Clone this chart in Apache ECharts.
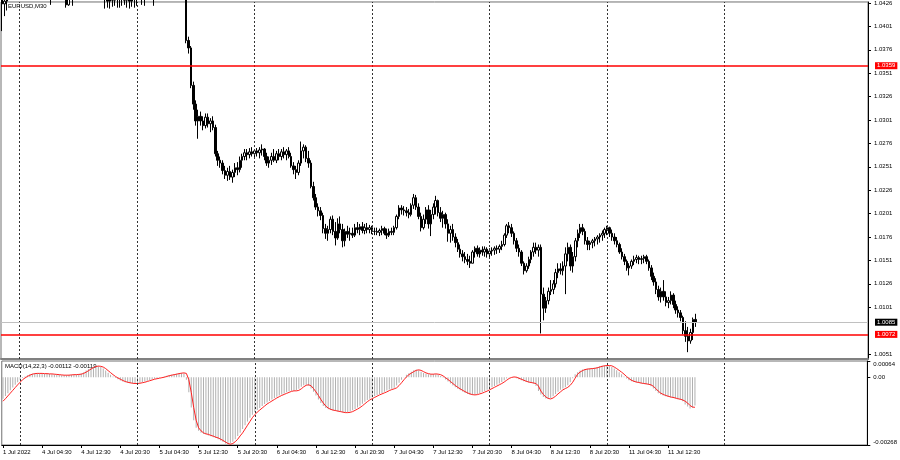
<!DOCTYPE html>
<html><head><meta charset="utf-8">
<script src="https://cdn.jsdelivr.net/npm/echarts@6/dist/echarts.min.js"></script>
<style>html,body{margin:0;padding:0;background:#fff}#c{width:900px;height:460px}</style>
</head><body><div id="c"></div>
<script>
// EURUSD M30, bar 0 = 1 Jul 2022 20:30 ; open of each bar = close of the previous bar
const firstOpen = 1.0432;
const closes = [
1.0425,1.0428,1.0433,1.0436,1.0438,1.0435,1.0437,1.0440,1.0442,1.0439,
1.0441,1.0444,1.0442,1.0445,1.0443,1.0440,1.0438,1.0436,1.0434,1.0432,
1.0430,1.0433,1.0435,1.0437,1.0435,1.0432,1.0424,1.0432,1.0434,1.0431,
1.0434,1.0436,1.0438,1.0441,1.0444,1.0446,1.0448,1.0446,1.0443,1.0440,
1.0436,1.0433,1.0430,1.0428,1.0431,1.0429,1.0432,1.0430,1.0433,1.0431,
1.0429,1.0431,1.0428,1.0430,1.0432,1.0430,1.0433,1.0431,1.0434,1.0436,
1.0438,1.0435,1.0432,1.0435,1.0437,1.0439,1.0441,1.0443,1.0441,1.0443,
1.0445,1.0443,1.0440,1.0438,1.0436,1.0386,1.0378,1.0338,1.0318,1.0300,
1.0305,1.0300,1.0295,1.0304,1.0297,1.0300,1.0293,1.0265,1.0258,1.0255,
1.0247,1.0242,1.0246,1.0240,1.0245,1.0250,1.0248,1.0258,1.0262,1.0266,
1.0264,1.0267,1.0265,1.0268,1.0266,1.0269,1.0270,1.0262,1.0255,1.0258,
1.0262,1.0258,1.0265,1.0262,1.0267,1.0264,1.0268,1.0262,1.0252,1.0248,
1.0245,1.0255,1.0268,1.0272,1.0260,1.0255,1.0230,1.0218,1.0208,1.0204,
1.0199,1.0185,1.0180,1.0184,1.0195,1.0182,1.0175,1.0190,1.0184,1.0172,
1.0182,1.0179,1.0180,1.0178,1.0186,1.0184,1.0187,1.0183,1.0186,1.0184,
1.0186,1.0182,1.0182,1.0181,1.0183,1.0185,1.0180,1.0178,1.0182,1.0181,
1.0186,1.0198,1.0207,1.0205,1.0204,1.0202,1.0200,1.0210,1.0218,1.0208,
1.0198,1.0186,1.0195,1.0205,1.0190,1.0200,1.0208,1.0215,1.0202,1.0196,
1.0200,1.0190,1.0180,1.0184,1.0176,1.0170,1.0163,1.0158,1.0155,1.0152,
1.0150,1.0148,1.0160,1.0164,1.0158,1.0162,1.0160,1.0163,1.0158,1.0161,
1.0162,1.0164,1.0163,1.0166,1.0168,1.0178,1.0188,1.0186,1.0180,1.0172,
1.0164,1.0160,1.0148,1.0140,1.0145,1.0152,1.0160,1.0165,1.0162,1.0165,
1.0115,1.0100,1.0108,1.0118,1.0120,1.0126,1.0138,1.0142,1.0140,1.0145,
1.0158,1.0165,1.0145,1.0155,1.0172,1.0180,1.0186,1.0182,1.0172,1.0168,
1.0170,1.0172,1.0174,1.0176,1.0178,1.0180,1.0184,1.0186,1.0180,1.0176,
1.0172,1.0168,1.0160,1.0155,1.0150,1.0143,1.0145,1.0150,1.0152,1.0154,
1.0152,1.0153,1.0155,1.0150,1.0143,1.0134,1.0128,1.0120,1.0112,1.0118,
1.0112,1.0106,1.0108,1.0114,1.0104,1.0098,1.0095,1.0090,1.0076,1.0070,
1.0065,1.0074,1.0088,1.0085];
const highs = [
1.0436,1.0432,1.0437,1.0440,1.0442,1.0441,1.0440,1.0445,1.0447,1.0445,
1.0446,1.0448,1.0447,1.0450,1.0449,1.0446,1.0443,1.0441,1.0439,1.0437,
1.0435,1.0437,1.0439,1.0441,1.0440,1.0437,1.0433,1.0435,1.0438,1.0436,
1.0438,1.0440,1.0442,1.0445,1.0448,1.0451,1.0453,1.0452,1.0449,1.0446,
1.0442,1.0439,1.0436,1.0434,1.0435,1.0434,1.0436,1.0435,1.0437,1.0436,
1.0434,1.0435,1.0433,1.0434,1.0436,1.0435,1.0437,1.0436,1.0438,1.0440,
1.0442,1.0440,1.0437,1.0439,1.0441,1.0443,1.0445,1.0447,1.0446,1.0448,
1.0449,1.0448,1.0446,1.0443,1.0441,1.0437,1.0390,1.0380,1.0342,1.0322,
1.0312,1.0310,1.0305,1.0308,1.0308,1.0303,1.0305,1.0296,1.0268,1.0262,
1.0258,1.0252,1.0250,1.0252,1.0248,1.0255,1.0256,1.0262,1.0265,1.0270,
1.0270,1.0271,1.0272,1.0270,1.0271,1.0272,1.0275,1.0271,1.0266,1.0262,
1.0266,1.0270,1.0268,1.0270,1.0270,1.0272,1.0270,1.0272,1.0266,1.0256,
1.0252,1.0258,1.0278,1.0275,1.0274,1.0268,1.0258,1.0235,1.0222,1.0212,
1.0208,1.0202,1.0190,1.0188,1.0198,1.0199,1.0192,1.0196,1.0198,1.0190,
1.0185,1.0188,1.0186,1.0186,1.0190,1.0192,1.0190,1.0192,1.0190,1.0191,
1.0189,1.0188,1.0186,1.0186,1.0185,1.0188,1.0187,1.0185,1.0185,1.0186,
1.0188,1.0200,1.0210,1.0210,1.0209,1.0208,1.0206,1.0212,1.0222,1.0221,
1.0212,1.0202,1.0200,1.0208,1.0210,1.0205,1.0212,1.0220,1.0216,1.0208,
1.0204,1.0202,1.0195,1.0188,1.0190,1.0180,1.0174,1.0168,1.0162,1.0160,
1.0158,1.0156,1.0162,1.0166,1.0167,1.0165,1.0166,1.0166,1.0165,1.0164,
1.0165,1.0166,1.0167,1.0168,1.0172,1.0180,1.0190,1.0192,1.0190,1.0182,
1.0175,1.0168,1.0162,1.0150,1.0148,1.0155,1.0162,1.0170,1.0170,1.0168,
1.0168,1.0122,1.0112,1.0122,1.0130,1.0130,1.0142,1.0148,1.0148,1.0150,
1.0165,1.0170,1.0168,1.0160,1.0175,1.0184,1.0190,1.0190,1.0185,1.0176,
1.0172,1.0174,1.0176,1.0178,1.0180,1.0183,1.0186,1.0188,1.0187,1.0184,
1.0180,1.0176,1.0170,1.0164,1.0158,1.0152,1.0148,1.0152,1.0156,1.0157,
1.0156,1.0156,1.0157,1.0157,1.0152,1.0146,1.0138,1.0132,1.0124,1.0122,
1.0130,1.0118,1.0112,1.0118,1.0116,1.0108,1.0102,1.0098,1.0092,1.0086,
1.0080,1.0078,1.0090,1.0094];
const lows = [
1.0396,1.0412,1.0418,1.0430,1.0432,1.0431,1.0432,1.0434,1.0436,1.0435,
1.0436,1.0437,1.0438,1.0439,1.0438,1.0435,1.0433,1.0431,1.0430,1.0429,
1.0424,1.0429,1.0430,1.0432,1.0431,1.0429,1.0421,1.0423,1.0430,1.0423,
1.0430,1.0431,1.0433,1.0435,1.0438,1.0441,1.0442,1.0441,1.0438,1.0434,
1.0430,1.0428,1.0420,1.0421,1.0420,1.0422,1.0423,1.0421,1.0421,1.0423,
1.0424,1.0421,1.0420,1.0422,1.0421,1.0423,1.0429,1.0424,1.0423,1.0430,
1.0432,1.0430,1.0423,1.0430,1.0432,1.0434,1.0436,1.0438,1.0436,1.0437,
1.0440,1.0438,1.0435,1.0433,1.0431,1.0383,1.0372,1.0335,1.0312,1.0295,
1.0281,1.0295,1.0290,1.0292,1.0293,1.0288,1.0290,1.0262,1.0252,1.0250,
1.0243,1.0238,1.0236,1.0237,1.0234,1.0240,1.0242,1.0245,1.0250,1.0258,
1.0258,1.0260,1.0262,1.0261,1.0262,1.0260,1.0263,1.0258,1.0252,1.0250,
1.0253,1.0256,1.0255,1.0258,1.0258,1.0260,1.0258,1.0260,1.0250,1.0243,
1.0238,1.0242,1.0252,1.0260,1.0256,1.0250,1.0228,1.0215,1.0205,1.0198,
1.0194,1.0180,1.0174,1.0172,1.0180,1.0178,1.0167,1.0173,1.0180,1.0165,
1.0166,1.0175,1.0172,1.0175,1.0176,1.0180,1.0178,1.0180,1.0179,1.0180,
1.0180,1.0179,1.0178,1.0178,1.0177,1.0178,1.0178,1.0174,1.0176,1.0178,
1.0178,1.0184,1.0195,1.0200,1.0199,1.0198,1.0196,1.0198,1.0206,1.0205,
1.0195,1.0182,1.0184,1.0190,1.0185,1.0177,1.0195,1.0200,1.0198,1.0192,
1.0186,1.0185,1.0171,1.0170,1.0172,1.0165,1.0160,1.0154,1.0150,1.0148,
1.0146,1.0143,1.0148,1.0154,1.0155,1.0154,1.0156,1.0155,1.0154,1.0154,
1.0156,1.0157,1.0158,1.0159,1.0162,1.0166,1.0175,1.0180,1.0176,1.0168,
1.0160,1.0155,1.0145,1.0136,1.0138,1.0142,1.0148,1.0155,1.0158,1.0155,
1.0073,1.0087,1.0095,1.0104,1.0114,1.0115,1.0122,1.0132,1.0136,1.0135,
1.0115,1.0150,1.0140,1.0138,1.0150,1.0165,1.0175,1.0178,1.0168,1.0162,
1.0162,1.0164,1.0166,1.0168,1.0170,1.0172,1.0175,1.0178,1.0176,1.0172,
1.0168,1.0165,1.0158,1.0152,1.0146,1.0140,1.0135,1.0142,1.0146,1.0148,
1.0147,1.0147,1.0148,1.0147,1.0140,1.0130,1.0124,1.0115,1.0108,1.0106,
1.0108,1.0102,1.0100,1.0104,1.0100,1.0094,1.0090,1.0086,1.0072,1.0064,
1.0053,1.0062,1.0066,1.0080];
// MACD(14,22,3) histogram (main line) and signal line
const macdHist = [
-0.00085,-0.00074,-0.00063,-0.00052,-0.00041,-0.00030,-0.00020,-0.00010,-0.00003,0.00003,
0.00008,0.00012,0.00014,0.00015,0.00015,0.00015,0.00014,0.00014,0.00013,0.00013,
0.00012,0.00011,0.00010,0.00009,0.00008,0.00008,0.00008,0.00009,0.00010,0.00010,
0.00011,0.00012,0.00015,0.00020,0.00026,0.00032,0.00038,0.00042,0.00044,0.00043,
0.00040,0.00034,0.00026,0.00018,0.00010,0.00003,-0.00003,-0.00008,-0.00013,-0.00017,
-0.00020,-0.00022,-0.00024,-0.00025,-0.00025,-0.00024,-0.00022,-0.00020,-0.00017,-0.00014,
-0.00011,-0.00008,-0.00006,-0.00004,-0.00002,0.00000,0.00003,0.00006,0.00008,0.00010,
0.00012,0.00014,0.00016,0.00017,0.00015,-0.00010,-0.00060,-0.00120,-0.00170,-0.00200,
-0.00212,-0.00220,-0.00224,-0.00226,-0.00230,-0.00233,-0.00237,-0.00240,-0.00245,-0.00250,
-0.00256,-0.00262,-0.00265,-0.00262,-0.00255,-0.00245,-0.00232,-0.00220,-0.00205,-0.00190,
-0.00175,-0.00160,-0.00148,-0.00138,-0.00130,-0.00122,-0.00114,-0.00106,-0.00100,-0.00094,
-0.00088,-0.00082,-0.00077,-0.00072,-0.00068,-0.00064,-0.00060,-0.00056,-0.00054,-0.00054,
-0.00052,-0.00046,-0.00038,-0.00032,-0.00030,-0.00034,-0.00045,-0.00058,-0.00072,-0.00088,
-0.00102,-0.00114,-0.00122,-0.00127,-0.00130,-0.00132,-0.00134,-0.00136,-0.00138,-0.00140,
-0.00140,-0.00139,-0.00136,-0.00131,-0.00126,-0.00120,-0.00113,-0.00105,-0.00097,-0.00090,
-0.00085,-0.00080,-0.00075,-0.00070,-0.00066,-0.00062,-0.00058,-0.00053,-0.00049,-0.00046,
-0.00042,-0.00033,-0.00022,-0.00010,0.00001,0.00010,0.00016,0.00022,0.00027,0.00029,
0.00027,0.00022,0.00017,0.00014,0.00012,0.00012,0.00013,0.00012,0.00010,0.00005,
-0.00002,-0.00009,-0.00017,-0.00025,-0.00033,-0.00040,-0.00046,-0.00052,-0.00057,-0.00062,
-0.00066,-0.00069,-0.00070,-0.00069,-0.00066,-0.00063,-0.00059,-0.00055,-0.00050,-0.00045,
-0.00040,-0.00035,-0.00030,-0.00025,-0.00019,-0.00012,-0.00005,-0.00001,0.00001,0.00000,
-0.00004,-0.00008,-0.00012,-0.00016,-0.00019,-0.00021,-0.00023,-0.00025,-0.00035,-0.00055,
-0.00068,-0.00078,-0.00084,-0.00086,-0.00082,-0.00075,-0.00066,-0.00058,-0.00050,-0.00045,
-0.00040,-0.00032,-0.00020,-0.00004,0.00012,0.00020,0.00026,0.00030,0.00032,0.00033,
0.00034,0.00035,0.00037,0.00040,0.00043,0.00045,0.00046,0.00046,0.00045,0.00040,
0.00034,0.00027,0.00020,0.00012,0.00003,-0.00005,-0.00012,-0.00016,-0.00019,-0.00021,
-0.00023,-0.00025,-0.00026,-0.00028,-0.00030,-0.00036,-0.00045,-0.00055,-0.00063,-0.00068,
-0.00072,-0.00075,-0.00078,-0.00080,-0.00082,-0.00085,-0.00087,-0.00090,-0.00095,-0.00108,
-0.00116,-0.00124,-0.00120,-0.00112];
const macdSignal = [
-0.00095,-0.00085,-0.00074,-0.00063,-0.00052,-0.00041,-0.00030,-0.00020,-0.00010,-0.00003,
0.00003,0.00008,0.00012,0.00014,0.00015,0.00015,0.00015,0.00014,0.00014,0.00013,
0.00013,0.00012,0.00011,0.00010,0.00009,0.00008,0.00008,0.00008,0.00009,0.00010,
0.00010,0.00011,0.00012,0.00015,0.00020,0.00026,0.00032,0.00038,0.00042,0.00044,
0.00043,0.00040,0.00034,0.00026,0.00018,0.00010,0.00003,-0.00003,-0.00008,-0.00013,
-0.00017,-0.00020,-0.00022,-0.00024,-0.00025,-0.00025,-0.00024,-0.00022,-0.00020,-0.00017,
-0.00014,-0.00011,-0.00008,-0.00006,-0.00004,-0.00002,0.00000,0.00003,0.00006,0.00008,
0.00010,0.00012,0.00014,0.00016,0.00017,0.00015,-0.00010,-0.00060,-0.00120,-0.00170,
-0.00200,-0.00212,-0.00220,-0.00224,-0.00226,-0.00230,-0.00233,-0.00237,-0.00240,-0.00245,
-0.00250,-0.00256,-0.00262,-0.00265,-0.00262,-0.00255,-0.00245,-0.00232,-0.00220,-0.00205,
-0.00190,-0.00175,-0.00160,-0.00148,-0.00138,-0.00130,-0.00122,-0.00114,-0.00106,-0.00100,
-0.00094,-0.00088,-0.00082,-0.00077,-0.00072,-0.00068,-0.00064,-0.00060,-0.00056,-0.00054,
-0.00054,-0.00052,-0.00046,-0.00038,-0.00032,-0.00030,-0.00034,-0.00045,-0.00058,-0.00072,
-0.00088,-0.00102,-0.00114,-0.00122,-0.00127,-0.00130,-0.00132,-0.00134,-0.00136,-0.00138,
-0.00140,-0.00140,-0.00139,-0.00136,-0.00131,-0.00126,-0.00120,-0.00113,-0.00105,-0.00097,
-0.00090,-0.00085,-0.00080,-0.00075,-0.00070,-0.00066,-0.00062,-0.00058,-0.00053,-0.00049,
-0.00046,-0.00042,-0.00033,-0.00022,-0.00010,0.00001,0.00010,0.00016,0.00022,0.00027,
0.00029,0.00027,0.00022,0.00017,0.00014,0.00012,0.00012,0.00013,0.00012,0.00010,
0.00005,-0.00002,-0.00009,-0.00017,-0.00025,-0.00033,-0.00040,-0.00046,-0.00052,-0.00057,
-0.00062,-0.00066,-0.00069,-0.00070,-0.00069,-0.00066,-0.00063,-0.00059,-0.00055,-0.00050,
-0.00045,-0.00040,-0.00035,-0.00030,-0.00025,-0.00019,-0.00012,-0.00005,-0.00001,0.00001,
0.00000,-0.00004,-0.00008,-0.00012,-0.00016,-0.00019,-0.00021,-0.00023,-0.00025,-0.00035,
-0.00055,-0.00068,-0.00078,-0.00084,-0.00086,-0.00082,-0.00075,-0.00066,-0.00058,-0.00050,
-0.00045,-0.00040,-0.00032,-0.00020,-0.00004,0.00012,0.00020,0.00026,0.00030,0.00032,
0.00033,0.00034,0.00035,0.00037,0.00040,0.00043,0.00045,0.00046,0.00046,0.00045,
0.00040,0.00034,0.00027,0.00020,0.00012,0.00003,-0.00005,-0.00012,-0.00016,-0.00019,
-0.00021,-0.00023,-0.00025,-0.00026,-0.00028,-0.00030,-0.00036,-0.00045,-0.00055,-0.00063,
-0.00068,-0.00072,-0.00075,-0.00078,-0.00080,-0.00082,-0.00085,-0.00087,-0.00090,-0.00095,
-0.00102,-0.00112,-0.00118,-0.00119];
const timeLabels = ['1 Jul 2022','4 Jul 04:30','4 Jul 12:30','4 Jul 20:30','5 Jul 04:30','5 Jul 12:30',
  '5 Jul 20:30','6 Jul 04:30','6 Jul 12:30','6 Jul 20:30','7 Jul 04:30','7 Jul 12:30','7 Jul 20:30',
  '8 Jul 04:30','8 Jul 12:30','8 Jul 20:30','11 Jul 04:30','11 Jul 12:30'];
const priceTicks = [1.0426,1.0401,1.0376,1.0351,1.0326,1.0301,1.0276,1.0251,1.0226,1.0201,1.0176,1.0151,1.0126,1.0101,1.0051];
const macdTicks = [0.00064, 0, -0.00268];
const levelLines = [1.0359, 1.0072];
const lastPrice = 1.0085;
const daySeparators = [7, 55, 103, 151, 199, 247, 295];
const TOTAL_SLOTS = 354;
const LABEL_STEP = 16;

const FONT = 'Liberation Sans';
const cats = Array.from({length: TOTAL_SLOTS}, (_, i) => String(i));
const candles = closes.map((c, i) => [i === 0 ? firstOpen : closes[i - 1], c, lows[i], highs[i]]);
const isLabelIdx = (i) => i % LABEL_STEP === 0 && i / LABEL_STEP < timeLabels.length;
const sepLines = daySeparators.map(i => ({xAxis: i, label: {show: false},
  lineStyle: {color: '#333', type: [2, 2], width: 1}}));
const tagLabel = (bg, txt) => ({show: true, position: 'end', distance: 7, formatter: txt,
  backgroundColor: bg, color: '#fff', fontSize: 6, fontFamily: FONT, padding: [1, 2, 0, 2]});

const chart = echarts.init(document.getElementById('c'), null, {renderer: 'canvas'});
chart.setOption({
  animation: false,
  backgroundColor: '#fff',
  grid: [
    {left: 1, top: 1, width: 867, height: 358, show: true, borderColor: '#707070', borderWidth: 1},
    {left: 1, top: 361, width: 867, height: 84, show: true, borderColor: '#707070', borderWidth: 1}
  ],
  xAxis: [
    {type: 'category', gridIndex: 0, data: cats, boundaryGap: true,
     axisLine: {show: true, onZero: false, lineStyle: {color: '#808080', width: 2}}, axisTick: {show: false}, axisLabel: {show: false}, splitLine: {show: false}},
    {type: 'category', gridIndex: 1, data: cats, boundaryGap: true,
     axisLine: {show: true, onZero: false, lineStyle: {color: '#000', width: 1}},
     axisTick: {show: true, alignWithLabel: true, interval: isLabelIdx, length: 3, lineStyle: {color: '#000'}},
     axisLabel: {show: true, interval: isLabelIdx, align: 'left', margin: 4, fontSize: 6, fontFamily: FONT, color: '#000',
       formatter: (v, idx) => timeLabels[Math.round(Number(v) / LABEL_STEP)]},
     splitLine: {show: false}}
  ],
  yAxis: [
    {type: 'value', gridIndex: 0, position: 'right', min: 1.00457, max: 1.04271,
     axisLine: {show: true, lineStyle: {color: '#000'}},
     axisTick: {show: true, length: 3, customValues: priceTicks, lineStyle: {color: '#000'}},
     axisLabel: {show: true, customValues: priceTicks, margin: 6, fontSize: 6, fontFamily: FONT, color: '#000',
       formatter: v => v.toFixed(4)},
     splitLine: {show: false}},
    {type: 'value', gridIndex: 1, position: 'right', min: -0.00268, max: 0.00064,
     axisLine: {show: true, lineStyle: {color: '#000'}},
     axisTick: {show: true, length: 3, customValues: macdTicks, lineStyle: {color: '#000'}},
     axisLabel: {show: true, customValues: macdTicks, margin: 6, fontSize: 6, fontFamily: FONT, color: '#000',
       formatter: v => v > 0.0001 ? '{t|' + v.toFixed(5) + '}' : (v < -0.0001 ? '{b|' + v.toFixed(5) + '}' : '0.00'),
       rich: {t: {fontSize: 6, fontFamily: FONT, color: '#000', padding: [7, 0, 0, 0]},
              b: {fontSize: 6, fontFamily: FONT, color: '#000', padding: [0, 0, 5, 0]}}},
     splitLine: {show: false}}
  ],
  series: [
    {type: 'candlestick', xAxisIndex: 0, yAxisIndex: 0, data: candles, barWidth: 2, clip: true,
     itemStyle: {color: '#ffffff', color0: '#000000', borderColor: '#000000', borderColor0: '#000000', borderWidth: 1},
     markLine: {silent: true, symbol: ['none', 'none'], animation: false, precision: 6,
       data: sepLines.concat([
         {yAxis: lastPrice, lineStyle: {color: '#c0c0c0', type: 'solid', width: 1}, label: tagLabel('#000', lastPrice.toFixed(4))},
         ...levelLines.map(v => ({yAxis: v, lineStyle: {color: '#ff0000', type: 'solid', width: 1.5}, label: tagLabel('#ff0000', v.toFixed(4))}))
       ])}},
    {type: 'bar', xAxisIndex: 1, yAxisIndex: 1, data: macdHist, barWidth: 1,
     itemStyle: {color: '#b0b0b0'},
     markLine: {silent: true, symbol: ['none', 'none'], animation: false, data: sepLines}},
    {type: 'line', xAxisIndex: 1, yAxisIndex: 1, data: macdSignal, symbol: 'none', smooth: false,
     lineStyle: {color: '#ff2020', width: 1}}
  ],
  graphic: [
    {type: 'text', left: 8, top: 3, style: {text: 'EURUSD,M30', fontSize: 6, fontFamily: FONT, fill: '#000'}},
    {type: 'text', left: 5, top: 363, style: {text: 'MACD(14,22,3) -0.00112 -0.00119', fontSize: 6, fontFamily: FONT, fill: '#000'}}
  ]
});
</script></body></html>
